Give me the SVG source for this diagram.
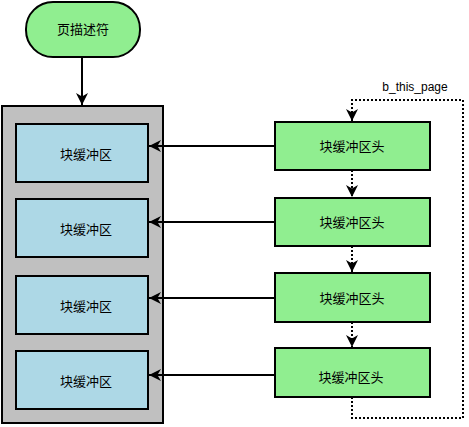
<svg xmlns="http://www.w3.org/2000/svg" width="469" height="427" viewBox="0 0 469 427">
<defs>
<style>
.t{font-family:"Liberation Sans","Noto Sans CJK SC",sans-serif;font-size:13px;fill:#000;text-anchor:middle;dominant-baseline:central}
.blue{fill:#add8e6;stroke:#000;stroke-width:2}
.green{fill:#90ee90;stroke:#000;stroke-width:2}
.ln{stroke:#000;stroke-width:2;fill:none}
.dot{stroke:#000;stroke-width:2;fill:none;stroke-dasharray:2 2}
</style>
<marker id="ah" viewBox="0 0 10 10" refX="10" refY="5" markerWidth="6" markerHeight="6" orient="auto" markerUnits="userSpaceOnUse">
<path d="M0,0 L10,5 L0,10 L3,5 Z" fill="#000"/>
</marker>
<marker id="ah2" viewBox="0 0 10 10" refX="10" refY="5" markerWidth="12" markerHeight="12" orient="auto" markerUnits="userSpaceOnUse">
<path d="M0,0 L10,5 L0,10 L3,5 Z" fill="#000"/>
</marker>
</defs>
<rect width="469" height="427" fill="#fff"/>
<g id="page-desc">
<rect x="26" y="2" width="114" height="55" rx="27" ry="27" class="green"/>
<text x="83" y="29" class="t">页描述符</text>
</g>
<g id="container">
<rect x="2" y="106" width="161" height="317" fill="#c0c0c0" stroke="#000" stroke-width="2"/>
</g>
<g id="buf1"><rect x="16" y="124" width="132" height="58" class="blue"/><text x="86" y="154" class="t">块缓冲区</text></g>
<g id="buf2"><rect x="16" y="199" width="132" height="58" class="blue"/><text x="86" y="229" class="t">块缓冲区</text></g>
<g id="buf3"><rect x="16" y="276" width="132" height="58" class="blue"/><text x="86" y="306" class="t">块缓冲区</text></g>
<g id="buf4"><rect x="16" y="351" width="132" height="58" class="blue"/><text x="86" y="381" class="t">块缓冲区</text></g>
<g id="head1"><rect x="275" y="122" width="155" height="48" class="green"/><text x="352" y="146" class="t">块缓冲区头</text></g>
<g id="head2"><rect x="275" y="198" width="155" height="48" class="green"/><text x="352" y="222" class="t">块缓冲区头</text></g>
<g id="head3"><rect x="275" y="273" width="155" height="49" class="green"/><text x="352" y="298" class="t">块缓冲区头</text></g>
<g id="head4"><rect x="275" y="348" width="155" height="49" class="green"/><text x="351" y="377" class="t">块缓冲区头</text></g>
<g id="connectors">
<line x1="82" y1="57" x2="82" y2="105" class="ln" marker-end="url(#ah2)"/>
<line x1="275" y1="146" x2="149" y2="146" class="ln" marker-end="url(#ah2)"/>
<line x1="275" y1="222" x2="149" y2="222" class="ln" marker-end="url(#ah2)"/>
<line x1="275" y1="298" x2="149" y2="298" class="ln" marker-end="url(#ah2)"/>
<line x1="275" y1="375" x2="149" y2="375" class="ln" marker-end="url(#ah2)"/>
<line x1="352" y1="170" x2="352" y2="197" class="dot" marker-end="url(#ah2)"/>
<line x1="352" y1="246" x2="352" y2="272" class="dot" marker-end="url(#ah2)"/>
<line x1="352" y1="322" x2="352" y2="347" class="dot" marker-end="url(#ah2)"/>
<polyline points="352,397 352,418 463,418 463,100 352,100 352,121" class="dot" marker-end="url(#ah2)"/>
<text x="415" y="87" class="t" style="font-size:12px">b_this_page</text>
</g>
</svg>
